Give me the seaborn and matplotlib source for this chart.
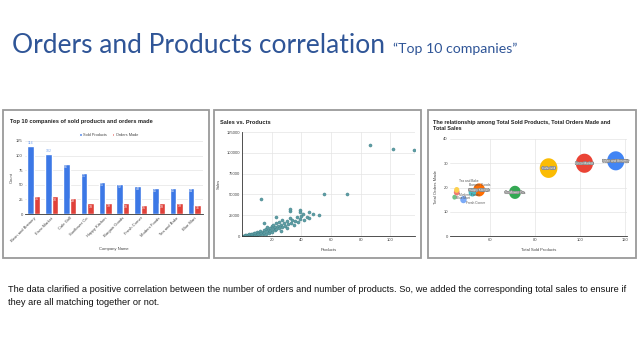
import numpy as np
import pandas as pd
import matplotlib
matplotlib.use("Agg")
import matplotlib.pyplot as plt
import seaborn as sns
from matplotlib.patches import Rectangle
from matplotlib.path import Path
import matplotlib.patheffects as pe

# ---- data ----
companies = ["Bean and Brewery", "Enzo Market", "Cafe Grill", "Sunflower Co.",
             "Happy Kitchen", "Bargain Goods", "Fresh Corner", "Modern Foods",
             "Tea and Bake", "Blue Mart"]
sold_products = [116, 102, 86, 71, 55, 52, 48, 45, 45, 44]
orders_made = [31, 30, 28, 18, 19, 18, 15, 18, 19, 16]
total_sales = [103800, 104200, 109800, 50700, 49900, 22000, 17000, 14000, 12000, 9000]
bubble_colors = ["#4285f4", "#ea4335", "#fbbc04", "#34a853", "#ff6d01",
                 "#46bdc6", "#7baaf7", "#f07b72", "#fcd04f", "#71c287"]

prod_x = [1, 2, 2, 3, 3, 4, 4, 5, 5, 6, 6, 7, 7, 8, 8, 8, 9, 9, 10, 10, 10, 11, 11,
          12, 12, 12, 13, 13, 14, 14, 15, 15, 15, 16, 16, 17, 17, 18, 18, 19, 19,
          20, 20, 21, 21, 22, 22, 23, 23, 23, 24, 25, 25, 26, 26, 27, 27, 28, 29,
          30, 30, 31, 32, 32, 32, 33, 34, 35, 36, 37, 38, 39, 39, 39, 40, 41, 42,
          44, 45, 45, 48, 52, 55, 71, 86, 102, 116]
sales_y = [300, 500, 900, 400, 1200, 800, 1500, 600, 2000, 1100, 2500, 1400, 3000,
           900, 2200, 3500, 1800, 4000, 2600, 1200, 5200, 3100, 1900, 4200, 2600,
           6500, 43900, 3600, 5000, 2200, 16000, 7200, 4100, 3000, 8900, 5800,
           10500, 7400, 4000, 9300, 6200, 11800, 5200, 8200, 13500, 10300, 6900,
           22400, 15200, 8700, 12000, 9800, 17300, 13800, 6500, 11200, 19600,
           15300, 12600, 17800, 9600, 14200, 30000, 32700, 21500, 16000, 19000,
           13000, 17500, 22500, 16800, 31100, 28700, 20000, 24000, 26300, 19500,
           23200, 29100, 22000, 26300, 24800, 49900, 50700, 109800, 104200, 103800]

# where the small-bubble names sit (x, y), so they do not pile up
small_label_pos = [(50.5, 21.0), (49.3, 13.6), (45.8, 17.0), (45.8, 22.6), (44.9, 15.6)]

W, H = 638, 359
sns.set_theme(style="white")
plt.rcParams["font.family"] = ["Liberation Sans", "DejaVu Sans"]

fig = plt.figure(figsize=(W / 100, H / 100), dpi=100)
fig.patch.set_facecolor("white")


def box(x0, y0, x1, y1):
    return [x0 / W, 1 - y1 / H, (x1 - x0) / W, (y1 - y0) / H]


# slide title and text
fig.text(12 / W, 1 - 53 / H, "Orders and Products correlation", family="Lato",
         fontsize=19, color="#2f5597", va="baseline")
fig.text(393 / W, 1 - 53 / H, "\u201cTop 10 companies\u201d", family="Lato",
         fontsize=10.2, color="#2f5597", va="baseline")
fig.text(8 / W, 1 - 296 / H,
         "The data clarified a positive correlation between the number of orders and number of "
         "products. So, we added the corresponding total sales to ensure if\n"
         "they are all matching together or not.",
         fontsize=6.7, color="#111111", va="center", linespacing=1.6)

# panel frames
for x0, x1 in [(3, 209), (214, 421), (428, 636)]:
    fig.patches.append(Rectangle((x0 / W, 1 - 258 / H), (x1 - x0) / W, 148 / H,
                                 transform=fig.transFigure, fill=False,
                                 edgecolor="#9a9a9a", linewidth=1.3))

tick_kw = dict(labelsize=3, colors="#444444", length=0, pad=1.5)
grid_c = "#e4e4e4"

# ---- panel 1: bars ----
ax1 = fig.add_axes(box(25, 141, 203, 214))
bar_df = pd.DataFrame({
    "Company Name": companies * 2,
    "Count": sold_products + orders_made,
    "Series": ["Sold Products"] * 10 + ["Orders Made"] * 10,
})
sns.barplot(data=bar_df, x="Company Name", y="Count", hue="Series",
            palette=["#3c78e6", "#e0413a"], saturation=1, width=0.72, gap=0, ax=ax1)
ax1.set_ylim(0, 125)
ax1.set_yticks([0, 25, 50, 75, 100, 125])
ax1.yaxis.grid(True, color=grid_c, linewidth=0.5)
ax1.set_axisbelow(True)
for s in ["top", "right", "left"]:
    ax1.spines[s].set_visible(False)
ax1.spines["bottom"].set_color("#333333")
ax1.spines["bottom"].set_linewidth(0.6)
ax1.tick_params(**tick_kw)
plt.setp(ax1.get_xticklabels(), rotation=45, ha="right", rotation_mode="anchor")
ax1.set_xlabel("Company Name", fontsize=3, color="#444444", labelpad=3)
ax1.set_ylabel("Count", fontsize=3, color="#444444", labelpad=2)
leg = ax1.legend(loc="lower center", bbox_to_anchor=(0.47, 1.02), ncol=2, frameon=False,
                 fontsize=2.8, handlelength=0.6, handleheight=0.6, columnspacing=1.2,
                 handletextpad=0.4, borderaxespad=0.3)
for t in leg.get_texts():
    t.set_color("#444444")
for i, cont in enumerate(ax1.containers):
    for j, p in enumerate(cont.patches):
        v = int(p.get_height())
        cx = p.get_x() + p.get_width() / 2
        if i == 0 and j < 2:
            ax1.text(cx, v + 2, str(v), ha="center", va="bottom", fontsize=2.6, color="#7ba7f0")
        else:
            ax1.text(cx, v - 2, str(v), ha="center", va="top", fontsize=2.6, color="#f2f2f2")
fig.text(10 / W, 1 - 122 / H, "Top 10 companies of sold products and orders made",
         fontsize=4.1, fontweight="bold", color="#222222", va="center")

# ---- panel 2: scatter ----
ax2 = fig.add_axes(box(242, 132, 415, 236))
sns.scatterplot(x=prod_x, y=sales_y, color="#5f9ea5", s=5, edgecolor="#3f7f86",
                linewidth=0.3, ax=ax2)
ax2.set_xlim(0, 116.5)
ax2.set_ylim(0, 125000)
ax2.set_xticks([20, 40, 60, 80, 100])
ax2.set_yticks([0, 25000, 50000, 75000, 100000, 125000])
ax2.grid(True, color=grid_c, linewidth=0.5)
ax2.set_axisbelow(True)
for s in ["top", "right"]:
    ax2.spines[s].set_visible(False)
for s in ["bottom", "left"]:
    ax2.spines[s].set_color("#333333")
    ax2.spines[s].set_linewidth(0.6)
ax2.tick_params(**tick_kw)
ax2.set_xlabel("Products", fontsize=3, color="#444444", labelpad=4)
ax2.set_ylabel("Sales", fontsize=3, color="#444444", labelpad=4)
fig.text(220 / W, 1 - 122.5 / H, "Sales vs. Products", fontsize=4.1,
         fontweight="bold", color="#222222", va="center")

# ---- panel 3: bubbles ----
ax3 = fig.add_axes(box(450, 139, 627, 236))
bub_df = pd.DataFrame({"Company": companies, "Total Sold Products": sold_products,
                       "Total Orders Made": orders_made, "Total Sales": total_sales})
t = np.linspace(0, 2 * np.pi, 60)
ellipse = Path(np.column_stack([0.9 * np.cos(t), np.sin(t)]))
sns.scatterplot(data=bub_df, x="Total Sold Products", y="Total Orders Made",
                hue="Company", palette=bubble_colors, size="Total Sales",
                sizes=(12, 200), marker=ellipse, linewidth=0, legend=False, ax=ax3)
ax3.set_xlim(42, 121)
ax3.set_ylim(0, 40)
ax3.set_xticks([60, 80, 100, 120])
ax3.set_yticks([0, 10, 20, 30, 40])
ax3.grid(True, color=grid_c, linewidth=0.5)
ax3.set_axisbelow(True)
for s in ["top", "right", "left"]:
    ax3.spines[s].set_visible(False)
ax3.spines["bottom"].set_color("#333333")
ax3.spines["bottom"].set_linewidth(0.6)
ax3.tick_params(**tick_kw)
ax3.set_xlabel("Total Sold Products", fontsize=3, color="#444444", labelpad=4)
ax3.set_ylabel("Total Orders Made", fontsize=3, color="#444444", labelpad=4)
halo = [pe.withStroke(linewidth=1.0, foreground="#8a8a8a")]
for i, (name, x, y) in enumerate(zip(companies, sold_products, orders_made)):
    if i < 5:
        ax3.text(x, y, name, ha="center", va="center", fontsize=2.3, color="white",
                 path_effects=halo)
    else:
        lx, ly = small_label_pos[i - 5]
        ax3.text(lx, ly, name, ha="left", va="center", fontsize=2.3, color="#555555")
fig.text(433 / W, 1 - 125.5 / H,
         "The relationship among Total Sold Products, Total Orders Made and\nTotal Sales",
         fontsize=4.0, fontweight="bold", color="#222222", va="center", linespacing=1.1)

fig.savefig("out.png", dpi=100, facecolor="white")
